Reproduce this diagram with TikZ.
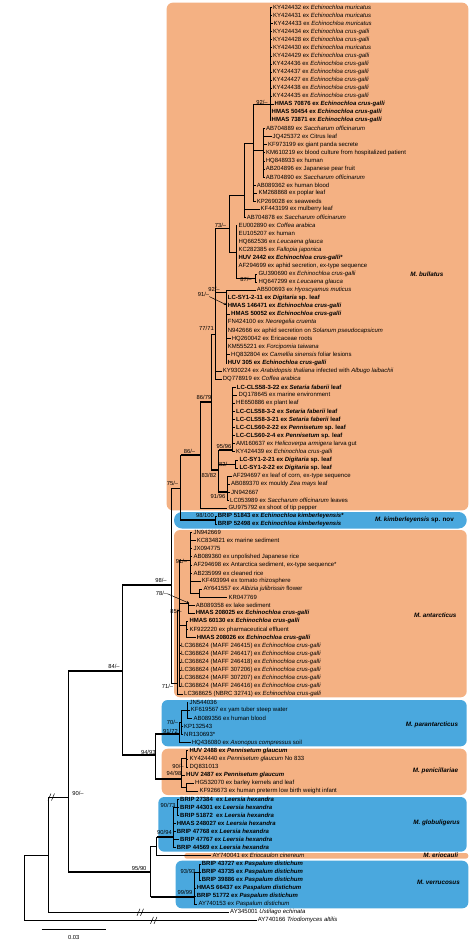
\documentclass[tikz,border=0pt]{standalone}
\usepackage{fontspec}
\setmainfont{Liberation Sans}
\usetikzlibrary{arrows.meta}
\definecolor{orb}{HTML}{F4B183}
\definecolor{blb}{HTML}{4AA8DE}
\begin{document}
\begin{tikzpicture}[x=1pt,y=-1pt,
  lf/.style={anchor=west,inner xsep=1pt,inner ysep=0pt,font=\fontsize{6}{7}\selectfont},
  br/.style={line width=0.5pt},
  tk/.style={line width=2pt},
  sp/.style={inner sep=0pt,font=\fontsize{5.8}{6}\selectfont},
  box/.style={rounded corners=6pt},
  cl/.style={anchor=east,inner sep=0pt,font=\fontsize{6.3}{7}\selectfont\bfseries\itshape}]
\path[use as bounding box] (0,0) rectangle (474,943);
% clade boxes
\fill[orb,box] (166.7,2.7) rectangle (468.3,510.3);
\fill[blb,rounded corners=8pt] (174,512) rectangle (466.7,528.5);
\fill[orb,box] (174,530) rectangle (466.7,697.3);
\fill[blb,box] (161.7,700) rectangle (466.7,746.3);
\fill[orb,box] (161.7,748.7) rectangle (466.7,795);
\fill[blb,box] (158.3,797) rectangle (466.7,851.7);
\fill[orb,rounded corners=2.5pt] (184.3,853) rectangle (468.3,858.7);
\fill[blb,box] (175.7,860.7) rectangle (468.3,908.3);
% clade labels
\node[cl] (cbul) at (443.5,274) {M. bullatus};
\node[cl] (ckim) at (454,520.3) {M. kimberleyensis \upshape sp. nov};
\node[cl] (cant) at (456.7,615) {M. antarcticus};
\node[cl] (cpar) at (458.3,725.3) {M. parantarcticus};
\node[cl] (cpen) at (458.3,771.3) {M. penicillariae};
\node[cl] (cglo) at (460,823.3) {M. globuligerus};
\node[cl] (ceri) at (458.3,855.7) {M. eriocauli};
\node[cl] (cver) at (460,882.3) {M. verrucosus};
% leaves
\node[lf] (l1) at (272,7.30) {KY424432 ex \textit{Echinochloa muricatus}};
\node[lf] (l2) at (272,15.38) {KY424431 ex \textit{Echinochloa muricatus}};
\node[lf] (l3) at (272.5,23.46) {KY424433 ex \textit{Echinochloa muricatus}};
\node[lf] (l4) at (272,31.54) {KY424434 ex \textit{Echinochloa crus-galli}};
\node[lf] (l5) at (272,39.62) {KY424428 ex \textit{Echinochloa crus-galli}};
\node[lf] (l6) at (272,47.70) {KY424430 ex \textit{Echinochloa muricatus}};
\node[lf] (l7) at (272,55.78) {KY424429 ex \textit{Echinochloa crus-galli}};
\node[lf] (l8) at (271.5,63.86) {KY424436 ex \textit{Echinochloa crus-galli}};
\node[lf] (l9) at (271.5,71.94) {KY424437 ex \textit{Echinochloa crus-galli}};
\node[lf] (l10) at (271.5,80.02) {KY424427 ex \textit{Echinochloa crus-galli}};
\node[lf] (l11) at (271.5,88.10) {KY424438 ex \textit{Echinochloa crus-galli}};
\node[lf] (l12) at (271.5,96.18) {KY424435 ex \textit{Echinochloa crus-galli}};
\node[lf] (l13) at (273.5,104.26) {\textbf{HMAS 70876 ex \textit{Echinochloa crus-galli}}};
\node[lf] (l14) at (270.5,112.34) {\textbf{HMAS 50454 ex \textit{Echinochloa crus-galli}}};
\node[lf] (l15) at (270.5,120.42) {\textbf{HMAS 73871 ex \textit{Echinochloa crus-galli}}};
\node[lf] (l16) at (265,128.50) {AB704889 ex \textit{Saccharum officinarum}};
\node[lf] (l17) at (271.5,136.58) {JQ425372 ex Citrus leaf};
\node[lf] (l18) at (267,144.66) {KF973199 ex giant panda secrete};
\node[lf] (l19) at (265,152.74) {KM610219 ex blood culture from hospitalized patient};
\node[lf] (l20) at (264.7,160.82) {HQ848933 ex human};
\node[lf] (l21) at (264.7,168.90) {AB204896 ex Japanese pear fruit};
\node[lf] (l22) at (264.7,176.98) {AB704890 ex \textit{Saccharum officinarum}};
\node[lf] (l23) at (255.7,185.06) {AB089362 ex human blood};
\node[lf] (l24) at (257.3,193.14) {KM268868 ex poplar leaf};
\node[lf] (l25) at (255.7,201.22) {KP269028 ex seaweeds};
\node[lf] (l26) at (259.5,209.30) {KF443199 ex mulberry leaf};
\node[lf] (l27) at (245.7,217.38) {AB704878 ex \textit{Saccharum officinarum}};
\node[lf] (l28) at (237.3,225.46) {EU002890 ex \textit{Coffea arabica}};
\node[lf] (l29) at (237.3,233.54) {EU105207 ex human};
\node[lf] (l30) at (237.3,241.62) {HQ662536 ex \textit{Leucaena glauca}};
\node[lf] (l31) at (237.3,249.70) {KC282385 ex \textit{Fallopia japonica}};
\node[lf] (l32) at (237.3,257.78) {\textbf{HUV 2442 ex \textit{Echinochloa crus-galli}*}};
\node[lf] (l33) at (237.3,265.86) {AF294699 ex aphid secretion, ex-type sequence};
\node[lf] (l34) at (257.3,273.94) {GU390690 ex \textit{Echinochloa crus-galli}};
\node[lf] (l35) at (257.3,282.02) {HQ647299 ex \textit{Leucaena glauca}};
\node[lf] (l36) at (255.7,290.10) {AB500693 ex \textit{Hyoscyamus muticus}};
\node[lf] (l37) at (226.7,298.18) {\textbf{LC-SY1-2-11 ex \textit{Digitaria} sp. leaf}};
\node[lf] (l38) at (226.7,306.26) {\textbf{HMAS 146471 ex \textit{Echinochloa crus-galli}}};
\node[lf] (l39) at (230,314.34) {\textbf{HMAS 50052 ex \textit{Echinochloa crus-galli}}};
\node[lf] (l40) at (226.7,322.42) {FN424100 ex \textit{Neoregelia cruenta}};
\node[lf] (l41) at (226.7,330.50) {N942666 ex aphid secretion on \textit{Solanum pseudocapsicum}};
\node[lf] (l42) at (230.7,338.58) {HQ260042 ex Ericaceae roots};
\node[lf] (l43) at (226.7,346.66) {KM555221 ex \textit{Forcipomia taiwana}};
\node[lf] (l44) at (230,354.74) {HQ832804 ex \textit{Camellia sinensis} foliar lesions};
\node[lf] (l45) at (226.7,362.82) {\textbf{HUV 305 ex \textit{Echinochloa crus-galli}}};
\node[lf] (l46) at (221.7,370.90) {KY930224 ex \textit{Arabidopsis thaliana} infected with \textit{Albugo laibachii}};
\node[lf] (l47) at (221.7,378.98) {DQ778919 ex \textit{Coffea arabica}};
\node[lf] (l48) at (235.7,387.06) {\textbf{LC-CLS58-3-22 ex \textit{Setaria faberii} leaf}};
\node[lf] (l49) at (237.3,395.14) {DQ178645 ex marine environment};
\node[lf] (l50) at (235,403.22) {HE650886 ex plant leaf};
\node[lf] (l51) at (235,411.30) {\textbf{LC-CLS58-3-2 ex \textit{Setaria faberii} leaf}};
\node[lf] (l52) at (235,419.38) {\textbf{LC-CLS58-3-21 ex \textit{Setaria faberii} leaf}};
\node[lf] (l53) at (235,427.46) {\textbf{LC-CLS60-2-22 ex \textit{Pennisetum} sp. leaf}};
\node[lf] (l54) at (235,435.54) {\textbf{LC-CLS60-2-4 ex \textit{Pennisetum} sp. leaf}};
\node[lf] (l55) at (235,443.62) {AM160637 ex \textit{Helicoverpa armigera} larva gut};
\node[lf] (l56) at (235,451.70) {KY424439 ex \textit{Echinochloa crus-galli}};
\node[lf] (l57) at (238.3,459.78) {\textbf{LC-SY1-2-21 ex \textit{Digitaria} sp. leaf}};
\node[lf] (l58) at (238.3,467.86) {\textbf{LC-SY1-2-22 ex \textit{Digitaria} sp. leaf}};
\node[lf] (l59) at (231.7,475.94) {AF294697 ex leaf of corn, ex-type sequence};
\node[lf] (l60) at (230,484.02) {AB089370 ex mouldy \textit{Zea mays} leaf};
\node[lf] (l61) at (230,492.10) {JN942667};
\node[lf] (l62) at (229,500.18) {LC053989 ex \textit{Saccharum officinarum} leaves};
\node[lf] (l63) at (227.3,508.26) {GU975792 ex shoot of tip pepper};
\node[lf] (l64) at (216.7,516.34) {\textbf{BRIP 51843 ex \textit{Echinochloa kimberleyensis}*}};
\node[lf] (l65) at (216.7,524.42) {\textbf{BRIP 52498 ex \textit{Echinochloa kimberleyensis}}};
\node[lf] (l66) at (192.3,532.50) {JN942669};
\node[lf] (l67) at (195.7,540.58) {KC834821 ex marine sediment};
\node[lf] (l68) at (192.3,548.66) {JX094775};
\node[lf] (l69) at (192.3,556.74) {AB089360 ex unpolished Japanese rice};
\node[lf] (l70) at (192.3,564.82) {AF294698 ex Antarctica sediment, ex-type sequence*};
\node[lf] (l71) at (192.3,572.90) {AB235999 ex cleaned rice};
\node[lf] (l72) at (200.7,580.98) {KF493994 ex tomato rhizosphere};
\node[lf] (l73) at (202.3,589.06) {AY641557 ex \textit{Albizia julibrissin} flower};
\node[lf] (l74) at (227.3,597.14) {KR047769};
\node[lf] (l75) at (194.7,605.22) {AB089358 ex lake sediment};
\node[lf] (l76) at (194.7,613.30) {\textbf{HMAS 208025 ex \textit{Echinochloa crus-galli}}};
\node[lf] (l77) at (188.3,621.38) {\textbf{HMAS 60130 ex \textit{Echinochloa crus-galli}}};
\node[lf] (l78) at (188.3,629.46) {KF922220 ex pharmaceutical effluent};
\node[lf] (l79) at (195.7,637.54) {\textbf{HMAS 208026 ex \textit{Echinochloa crus-galli}}};
\node[lf] (l80) at (180,645.62) {LC368624 (MAFF 246415) ex \textit{Echinochloa crus-galli}};
\node[lf] (l81) at (180,653.70) {LC368624 (MAFF 246417) ex \textit{Echinochloa crus-galli}};
\node[lf] (l82) at (180,661.78) {LC368624 (MAFF 246418) ex \textit{Echinochloa crus-galli}};
\node[lf] (l83) at (180,669.86) {LC368624 (MAFF 307206) ex \textit{Echinochloa crus-galli}};
\node[lf] (l84) at (180,677.94) {LC368624 (MAFF 307207) ex \textit{Echinochloa crus-galli}};
\node[lf] (l85) at (180,686.02) {LC368624 (MAFF 246416) ex \textit{Echinochloa crus-galli}};
\node[lf] (l86) at (183,694.10) {LC368625 (NBRC 32741) ex \textit{Echinochloa crus-galli}};
\node[lf] (l87) at (188.3,702.18) {JN544036};
\node[lf] (l88) at (189.7,710.26) {KF619567 ex yam tuber steep water};
\node[lf] (l89) at (192.3,718.34) {AB089356 ex human blood};
\node[lf] (l90) at (183,726.42) {KP132543};
\node[lf] (l91) at (183,734.50) {NR130693*};
\node[lf] (l92) at (190.7,742.58) {HQ436080 ex \textit{Axonopus compressus} soil};
\node[lf] (l93) at (188.3,750.66) {\textbf{HUV 2488 ex \textit{Pennisetum glaucum}}};
\node[lf] (l94) at (188.3,758.74) {KY424440 ex \textit{Pennisetum glaucum} No 833};
\node[lf] (l95) at (188.3,766.82) {DQ831013};
\node[lf] (l96) at (185,774.90) {\textbf{HUV 2487 ex \textit{Pennisetum glaucum}}};
\node[lf] (l97) at (194,782.98) {HG532070 ex barley kernels and leaf};
\node[lf] (l98) at (198.3,791.06) {KF926673 ex human preterm low birth weight infant};
\node[lf] (l99) at (179,799.14) {\textbf{BRIP 27384 \ ex \textit{Leersia hexandra}}};
\node[lf] (l100) at (179,807.22) {\textbf{BRIP 44301 ex \textit{Leersia hexandra}}};
\node[lf] (l101) at (179,815.30) {\textbf{BRIP 51872 \ ex \textit{Leersia hexandra}}};
\node[lf] (l102) at (175.7,823.38) {\textbf{HMAS 248027 ex \textit{Leersia hexandra}}};
\node[lf] (l103) at (175.7,831.46) {\textbf{BRIP 47768 ex \textit{Leersia hexandra}}};
\node[lf] (l104) at (179,839.54) {\textbf{BRIP 47767 ex \textit{Leersia hexandra}}};
\node[lf] (l105) at (175.7,847.62) {\textbf{BRIP 44569 ex \textit{Leersia hexandra}}};
\node[lf] (l106) at (211.3,855.70) {AY740041 ex \textit{Eriocaulon cinereum}};
\node[lf] (l107) at (200.7,863.78) {\textbf{BRIP 43727 ex \textit{Paspalum distichum}}};
\node[lf] (l108) at (200.7,871.86) {\textbf{BRIP 43735 ex \textit{Paspalum distichum}}};
\node[lf] (l109) at (200.7,879.94) {\textbf{BRIP 39886 ex \textit{Paspalum distichum}}};
\node[lf] (l110) at (195.7,888.02) {\textbf{HMAS 66437 ex \textit{Paspalum distichum}}};
\node[lf] (l111) at (195.7,896.10) {\textbf{BRIP 51772 ex \textit{Paspalum distichum}}};
\node[lf] (l112) at (197.3,904.18) {AY740153 ex \textit{Paspalum distichum}};
\node[lf] (l113) at (229,912.26) {AY345001 \textit{Ustilago echinata}};
\node[lf] (l114) at (256.7,920.34) {AY740166 \textit{Triodiomyces altilis}};
% internal nodes
\coordinate (Pa) at (270,104.26);
\coordinate (A) at (253,143);
\coordinate (P2) at (263.3,150);
\coordinate (B) at (244,195);
\coordinate (C) at (236,252);
\coordinate (F) at (255.3,278);
\coordinate (D) at (229,228);
\coordinate (G) at (226,292);
\coordinate (E) at (215,334.6);
\coordinate (N211) at (211.7,402.3);
\coordinate (Q) at (232.7,450);
\coordinate (S) at (235.5,463.8);
\coordinate (N219) at (218.7,470);
\coordinate (N227) at (227.3,492);
\coordinate (N200) at (200,455.3);
\coordinate (N180) at (180.7,488);
\coordinate (Kim) at (215,520.4);
\coordinate (N171) at (171.7,585.3);
\coordinate (Ant) at (177.3,683);
\coordinate (T) at (179.5,610);
\coordinate (V) at (190,560);
\coordinate (W) at (199.3,593.1);
\coordinate (X) at (188.5,603.3);
\coordinate (Y) at (186,625);
\coordinate (N122) at (122.3,670.7);
\coordinate (N153) at (155,755.3);
\coordinate (Par) at (179.3,734.3);
\coordinate (Z) at (181.7,722);
\coordinate (Z2) at (187.3,710);
\coordinate (Pen) at (181.7,779.3);
\coordinate (PA) at (186.5,758.7);
\coordinate (PB) at (186.5,787);
\coordinate (Glo) at (173.3,837.3);
\coordinate (GA) at (177.3,807.2);
\coordinate (N156) at (156.7,846.5);
\coordinate (N150) at (150.7,872.3);
\coordinate (Ver) at (194,896.7);
\coordinate (VA) at (199,871.9);
\coordinate (Ing) at (68,797);
\coordinate (N48) at (48.3,855);
\coordinate (Root) at (24,888);
% branches
\foreach \i in {1,...,15} \draw[br] (Pa) |- (l\i.west);
\foreach \i in {16,...,22} \draw[br] (P2) |- (l\i.west);
\foreach \i in {23,24,25} \draw[br] (A) |- (l\i.west);
\draw[br] (A) |- (Pa); \draw[br] (A) |- (P2);
\draw[br] (B) |- (A); \draw[br] (B) |- (l26.west); \draw[br] (B) |- (l27.west);
\foreach \i in {28,...,33} \draw[br] (C) |- (l\i.west);
\draw[br] (F) |- (l34.west); \draw[br] (F) |- (l35.west); \draw[br] (C) |- (F);
\draw[br] (D) |- (B); \draw[br] (D) |- (C);
\foreach \i in {36,...,45} \draw[br] (G) |- (l\i.west);
\draw[br] (E) |- (D); \draw[br] (E) |- (G); \draw[br] (E) |- (l46.west); \draw[br] (E) |- (l47.west);
\foreach \i in {48,...,56} \draw[br] (Q) |- (l\i.west);
\draw[br] (S) |- (l57.west); \draw[br] (S) |- (l58.west);
\foreach \i in {59,...,62} \draw[br] (N227) |- (l\i.west);
\draw[br] (N219) |- (Q); \draw[tk] (N219 |- Q) -- (Q);
\draw[br] (N219) |- (S);
\draw[br] (N219) |- (N227); \draw[tk] (N219 |- N227) -- (N227);
\draw[br] (N211) |- (E);
\draw[br] (N211) |- (N219); \draw[tk] (N211 |- N219) -- (N219);
\draw[br] (N200) |- (N211); \draw[tk] (N200 |- N211) -- (N211);
\draw[br] (N200) |- (l63.west);
\draw[br] (N180) |- (N200); \draw[tk] (N180 |- N200) -- (N200);
\draw[br] (Kim) |- (l64.west); \draw[br] (Kim) |- (l65.west);
\draw[br] (N180) |- (Kim); \draw[tk] (N180 |- Kim) -- (Kim);
\draw[br] (N171) |- (N180);
\foreach \i in {66,...,72} \draw[br] (V) |- (l\i.west);
\draw[br] (W) |- (l73.west); \draw[br] (W) |- (l74.west); \draw[br] (V) |- (W);
\draw[br] (X) |- (l75.west); \draw[br] (X) |- (l76.west);
\foreach \i in {77,78,79} \draw[br] (Y) |- (l\i.west);
\draw[br] (T) |- (V); \draw[br] (T) |- (X); \draw[br] (T) |- (Y);
\foreach \i in {80,...,85} \draw[br] (T) |- (l\i.west);
\draw[br] (Ant) |- (T); \draw[br] (Ant) |- (l86.west);
\draw[br] (N171) |- (Ant);
\draw[br] (N122) |- (N171); \draw[tk] (N122 |- N171) -- (N171);
\foreach \i in {87,88,89} \draw[br] (Z2) |- (l\i.west);
\draw[br] (Z) |- (Z2); \draw[br] (Z) |- (l90.west); \draw[br] (Z) |- (l91.west);
\draw[br] (Par) |- (Z); \draw[br] (Par) |- (l92.west);
\foreach \i in {93,94,95} \draw[br] (PA) |- (l\i.west);
\draw[br] (PB) |- (l97.west); \draw[br] (PB) |- (l98.west);
\draw[br] (Pen) |- (PA); \draw[br] (Pen) |- (l96.west); \draw[br] (Pen) |- (PB);
\draw[br] (N153) |- (Par); \draw[tk] (N153 |- Par) -- (Par);
\draw[br] (N153) |- (Pen); \draw[tk] (N153 |- Pen) -- (Pen);
\draw[br] (N122) |- (N153); \draw[tk] (N122 |- N153) -- (N153);
\foreach \i in {99,100,101} \draw[br] (GA) |- (l\i.west);
\draw[br] (Glo) |- (GA);
\foreach \i in {102,...,105} \draw[br] (Glo) |- (l\i.west);
\draw[br] (N156) |- (Glo); \draw[tk] (N156 |- Glo) -- (Glo);
\draw[br] (N156) |- (l106.west);
\foreach \i in {107,108,109} \draw[br] (VA) |- (l\i.west);
\draw[br] (Ver) |- (VA);
\foreach \i in {110,111,112} \draw[br] (Ver) |- (l\i.west);
\draw[br] (N150) |- (N156);
\draw[br] (N150) |- (Ver); \draw[tk] (N150 |- Ver) -- (Ver);
\draw[br] (Ing) |- (N122); \draw[tk] (Ing |- N122) -- (N122);
\draw[br] (Ing) |- (N150); \draw[tk] (Ing |- N150) -- (N150);
\draw[br] (N48) |- (Ing); \draw[br] (N48) |- (l113.west);
\draw[br] (Root) |- (N48); \draw[br] (Root) |- (l114.west);
% breaks
\coordinate (bk0) at (50,797);
\coordinate (bk1) at (139,912.26);
\coordinate (bk2) at (152.5,920.34);
\foreach \b in {bk0,bk1,bk2} {
  \draw[br] (\b) ++(-2,3.5) -- ++(3,-7);
  \draw[br] (\b) ++(1.5,3.5) -- ++(3,-7);
}
% supports
\node[sp] (s1) at (262,102) {92/--};
\node[sp] (s2) at (220.5,225) {73/--};
\node[sp] (s3) at (246,279) {87/--};
\node[sp] (s4) at (214,289) {92/--};
\node[sp] (s5) at (203.5,294.3) {91/--};
\node[sp] (s6) at (206.5,328.7) {77/71};
\node[sp] (s7) at (204,397.3) {86/79};
\node[sp] (s8) at (189.5,451) {86/--};
\node[sp] (s9) at (224,446.7) {95/96};
\node[sp] (s10) at (224.8,464) {82/--};
\node[sp] (s11) at (209,475.3) {83/82};
\node[sp] (s12) at (218,496.3) {91/96};
\node[sp] (s13) at (172.5,483.7) {75/--};
\node[sp] (s14) at (205,515.7) {98/100};
\node[sp] (s15) at (181.5,561.7) {91/--};
\node[sp] (s16) at (161,580.3) {98/--};
\node[sp] (s17) at (161.5,593.7) {78/--};
\node[sp] (s18) at (176,611.3) {85/--};
\node[sp] (s19) at (167.5,686) {71/--};
\node[sp] (s20) at (114,666.7) {84/--};
\node[sp] (s21) at (172.5,722) {70/--};
\node[sp] (s22) at (170.5,731) {91/72};
\node[sp] (s23) at (148.3,752) {94/93};
\node[sp] (s24) at (178,766) {90/--};
\node[sp] (s25) at (174,773) {94/98};
\node[sp] (s26) at (168,805) {90/73};
\node[sp] (s27) at (164.5,832.7) {90/94};
\node[sp] (s28) at (139.2,868.3) {95/90};
\node[sp] (s29) at (188,871) {93/93};
\node[sp] (s30) at (185,892.7) {99/99};
\node[sp] (s31) at (78,793) {90/--};
\coordinate (a1) at (226.7,305);
\coordinate (a2) at (189.3,603.3);
\draw[br,-{Stealth[length=3pt,width=2.5pt]}] (s5.south east) -- (a1);
\draw[br,-{Stealth[length=3pt,width=2.5pt]}] (s17.east) -- (a2);
% scale bar
\coordinate (sb1) at (41.7,929);
\coordinate (sb2) at (106,929);
\draw[br] (sb1) -- (sb2);
\node[sp] (sbl) at (73.8,937.5) {0.03};
\end{tikzpicture}
\end{document}
